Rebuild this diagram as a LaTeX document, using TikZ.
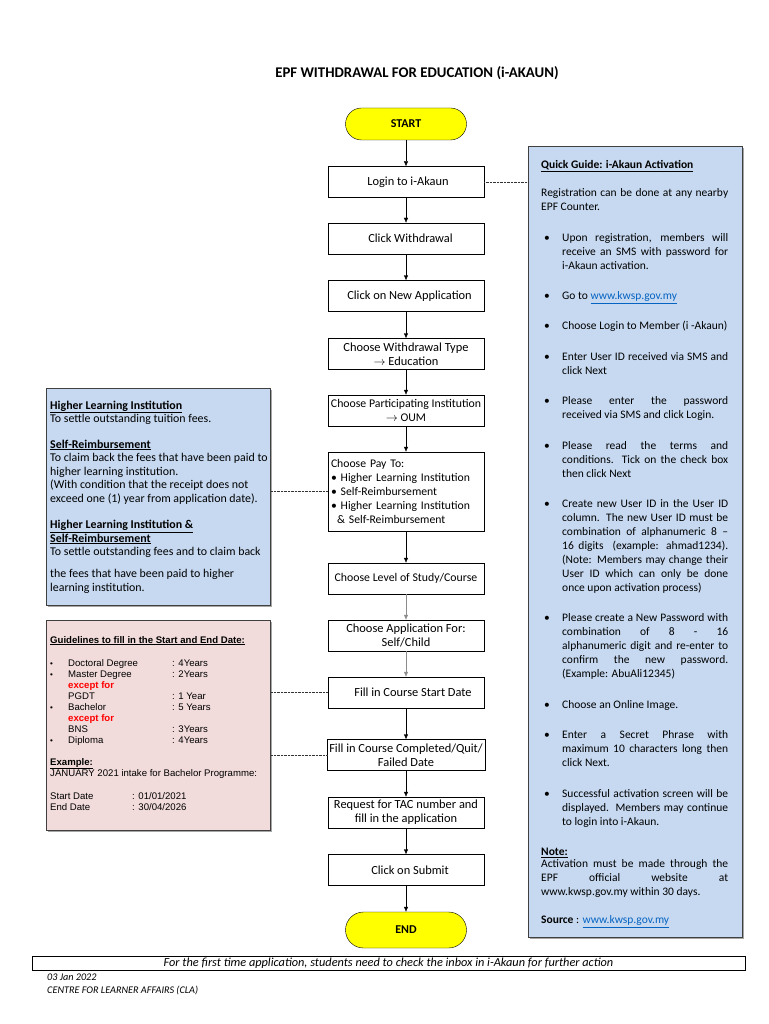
\documentclass[tikz,border=0pt]{standalone}
\usepackage{fontspec}
\setmainfont{Carlito}
\newfontfamily\arialfont{Liberation Sans}
\usetikzlibrary{shadows,arrows.meta}

\definecolor{guideblue}{RGB}{198,217,241}
\definecolor{guidepink}{RGB}{242,220,219}
\definecolor{linkblue}{RGB}{5,99,193}
\definecolor{flowyellow}{RGB}{255,255,0}

\newcommand{\lnk}[1]{\textcolor{linkblue}{\underline{#1}}}
\newcommand{\hd}[1]{\underline{\textbf{#1}}}
\newcommand{\gitem}[1]{\par\hangindent=21pt\hangafter=1\noindent\makebox[21pt][l]{\hspace{3pt}\textbullet}#1\par}
\newcommand{\pitem}[3]{\makebox[18pt][l]{#1}\makebox[104pt][l]{#2}#3}
\newcommand{\pdot}{{\fontsize{8}{8}\selectfont\textbullet}}
\newcommand{\exc}{\textcolor{red}{\textbf{except for}}}

\begin{document}
\begin{tikzpicture}[
    x=1pt, y=-1pt,
    flowbox/.style={rectangle, draw=black, thin, minimum width=156pt,
      minimum height=31pt, inner sep=2pt, align=center,
      font=\fontsize{12.4}{14}\selectfont},
    smallbox/.style={flowbox, font=\fontsize{11.8}{14}\selectfont},
    termbox/.style={rectangle, rounded corners=16pt, draw=black, thin,
      fill=flowyellow, minimum width=121pt, minimum height=32pt,
      font=\bfseries\fontsize{12}{13}\selectfont},
    linet/.style={thin, draw=black, -{Latex[length=5pt,width=4.5pt]}},
    lineg/.style={thin, draw=black!45, -{Latex[length=5pt,width=4.5pt]}},
    dotl/.style={densely dotted, thin, draw=black!80},
    guide/.style={rectangle, draw=black!75, line width=1pt, anchor=north west,
      inner sep=0pt, drop shadow={shadow xshift=1.5pt, shadow yshift=-1.5pt,
      fill=black!35, opacity=1}},
    guidetxt/.style={anchor=north west, inner sep=0pt}
  ]
  \fill[white] (0,0) rectangle (768,1024);
  \useasboundingbox (0,0) rectangle (768,1024);

  \node (title) at (417,73) {\bfseries\fontsize{14.8}{16}\selectfont EPF WITHDRAWAL FOR EDUCATION (i-AKAUN)};

  % main flow
  \path (406,124) node(start) [termbox] {START}
  (406,182) node(login) [flowbox] {\hspace*{4pt}Login to i-Akaun}
  (406,238.5) node(withdraw) [flowbox] {\hspace*{9pt}Click Withdrawal}
  (406,296) node(newapp) [flowbox] {\hspace*{7pt}Click on New Application}
  (406,354) node(wtype) [flowbox] {Choose Withdrawal Type\\$\rightarrow$ Education}
  (406,410.5) node(inst) [smallbox] {Choose Participating Institution\\$\rightarrow$ OUM}
  (406,491.5) node(payto) [smallbox, text width=150pt, align=left, inner sep=3pt,
    minimum height=79pt, font=\fontsize{11.7}{14}\selectfont] {
    Choose Pay To:\\
    \textbullet\ Higher Learning Institution\\
    \textbullet\ Self-Reimbursement\\
    \textbullet\ Higher Learning Institution\\
    \hspace{6pt}\& Self-Reimbursement
  }
  (406,578.5) node(level) [smallbox] {Choose Level of Study/Course}
  (406,635.5) node(appfor) [flowbox] {Choose Application For:\\Self/Child}
  (406,692.5) node(startd) [flowbox] {\hspace*{14pt}Fill in Course Start Date}
  (406,755) node(failed) [flowbox] {Fill in Course Completed/Quit/\\Failed Date}
  (406,812.5) node(tac) [flowbox] {Request for TAC number and\\fill in the application}
  (406,870) node(submit) [flowbox] {\hspace*{8pt}Click on Submit}
  (406,930) node(end) [termbox, minimum height=36pt, rounded corners=18pt] {END};

  \draw[linet] (start) -- (login);
  \draw[linet] (login) -- (withdraw);
  \draw[linet] (withdraw) -- (newapp);
  \draw[linet] (newapp) -- (wtype);
  \draw[linet] (wtype) -- (inst);
  \draw[linet] (inst) -- (payto);
  \draw[linet] (payto) -- (level);
  \draw[lineg] (level) -- (appfor);
  \draw[lineg] (appfor) -- (startd);
  \draw[linet] (startd) -- (failed);
  \draw[linet] (failed) -- (tac);
  \draw[linet] (tac) -- (submit);
  \draw[linet] (submit) -- (end);

  % side boxes
  \path (46,388) node(payinfo) [guide, fill=guideblue, minimum width=224pt, minimum height=217pt] {}
  (46,620) node(dates) [guide, fill=guidepink, minimum width=224pt, minimum height=210pt] {}
  (528,146) node(quick) [guide, fill=guideblue, minimum width=214pt, minimum height=791pt] {};

  \draw[dotl] (login.east) -- (quick.west |- login.east);
  \draw[dotl] (payinfo.east |- payto.west) -- (payto.west);
  \draw[dotl] (dates.east |- startd.west) -- (startd.west);
  \draw[dotl] (dates.east |- failed.west) -- (failed.west);

  \node (payinfotxt) [guidetxt, align=left, font=\fontsize{11.9}{13.5}\selectfont] at (50,400.5) {
    \hd{Higher Learning Institution}\\
    To settle outstanding tuition fees.\\[12pt]
    \hd{Self-Reimbursement}\\
    To claim back the fees that have been paid to\\
    higher learning institution.\\
    (With condition that the receipt does not\\
    exceed one (1) year from application date).\\[13pt]
    \hd{Higher Learning Institution \&}\\
    \hd{Self-Reimbursement}\\
    To settle outstanding fees and to claim back\\[8.5pt]
    the fees that have been paid to higher\\
    learning institution.
  };

  \node (datestxt) [guidetxt, align=left, font=\arialfont\fontsize{9.6}{11}\selectfont] at (50,636) {
    \hd{Guidelines to fill in the Start and End Date:}\\[12pt]
    \pitem{\pdot}{Doctoral Degree}{: 4Years}\\
    \pitem{\pdot}{Master Degree}{: 2Years}\\
    \pitem{}{\exc}{}\\
    \pitem{}{PGDT}{: 1 Year}\\
    \pitem{\pdot}{Bachelor}{: 5 Years}\\
    \pitem{}{\exc}{}\\
    \pitem{}{BNS}{: 3Years}\\
    \pitem{\pdot}{Diploma}{: 4Years}\\[11pt]
    \hd{Example:}\\
    JANUARY 2021 intake for Bachelor Programme:\\[12pt]
    \makebox[82pt][l]{Start Date}: 01/01/2021\\
    \makebox[82pt][l]{End Date}: 30/04/2026
  };

  \node (quicktxt) [guidetxt, text width=187pt, align=justify, font=\fontsize{11.5}{14}\selectfont] at (541,160.5) {%
    \setlength{\parindent}{0pt}\tolerance=9999 \hbadness=10000
    \hd{Quick Guide: i-Akaun Activation}\par\vspace{14pt}
    Registration can be done at any nearby\linebreak EPF Counter.\par\vspace{16.4pt}
    \gitem{Upon registration, members will\linebreak receive an SMS with password for\linebreak i-Akaun activation.}\vspace{16.4pt}
    \gitem{Go to \lnk{www.kwsp.gov.my}}\vspace{16.4pt}
    \gitem{Choose Login to Member (i -Akaun)}\vspace{16.4pt}
    \gitem{Enter User ID received via SMS and\linebreak click Next}\vspace{16.4pt}
    \gitem{Please enter the password\linebreak received via SMS and click Login.}\vspace{16.4pt}
    \gitem{Please read the terms and\linebreak conditions. Tick on the check box\linebreak then click Next}\vspace{16.4pt}
    \gitem{Create new User ID in the User ID\linebreak column. The new User ID must be\linebreak combination of alphanumeric 8 --\linebreak 16 digits~ (example: ahmad1234).\linebreak (Note: Members may change their\linebreak User ID which can only be done\linebreak once upon activation process)}\vspace{16.4pt}
    \gitem{Please create a New Password with\linebreak combination of 8 - 16\linebreak alphanumeric digit and re-enter to\linebreak confirm the new password.\linebreak (Example: AbuAli12345)}\vspace{16.4pt}
    \gitem{Choose an Online Image.}\vspace{16.4pt}
    \gitem{Enter a Secret Phrase with\linebreak maximum 10 characters long then\linebreak click Next.}\vspace{16.4pt}
    \gitem{Successful activation screen will be\linebreak displayed. Members may continue\linebreak to login into i-Akaun.}\vspace{16.4pt}
    \hd{Note:}\par\vspace{-2pt}
    Activation must be made through the\linebreak EPF official website at\linebreak www.kwsp.gov.my within 30 days.\par\vspace{14pt}
    \textbf{Source} : \lnk{www.kwsp.gov.my}\par
  };

  % footer
  \path (388.5,963) node(firstnote) [rectangle, draw=black, thin, minimum width=713pt,
    minimum height=14pt, inner sep=0pt, font=\itshape\fontsize{12.3}{12.3}\selectfont]
    {For the first time application, students need to check the inbox in i-Akaun for further action};
  \node (date) [anchor=west, inner sep=0pt, font=\itshape\fontsize{10.2}{10}\selectfont] at (47,977) {03 Jan 2022};
  \node (unit) [anchor=west, inner sep=0pt, font=\itshape\fontsize{10.2}{10}\selectfont] at (47,990) {CENTRE FOR LEARNER AFFAIRS (CLA)};
\end{tikzpicture}
\end{document}
